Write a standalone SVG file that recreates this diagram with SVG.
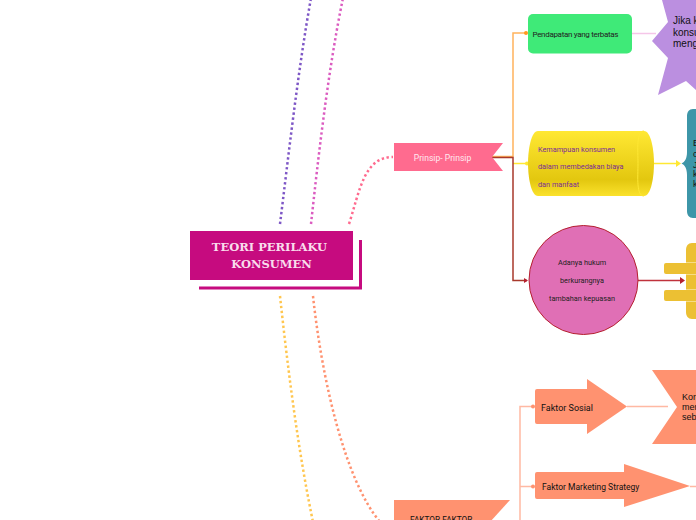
<svg xmlns="http://www.w3.org/2000/svg" width="696" height="520" viewBox="0 0 696 520">
<style>
.sans{font-family:"Roboto","Liberation Sans",sans-serif}
.arial{font-family:"Liberation Sans",Arial,sans-serif}
.mid{text-anchor:middle}
.dot{fill:none;stroke-width:2.5;stroke-dasharray:2.4 2.6}
.ln{fill:none;stroke-width:1.5}
.title{font-family:"DejaVu Serif",serif;font-weight:bold;font-size:11.5px;fill:#f9dcec;text-anchor:middle}
</style>
<defs>
<linearGradient id="cyl" x1="0" y1="0" x2="0" y2="1">
<stop offset="0" stop-color="#ffe833"/><stop offset="0.75" stop-color="#e3c70f"/><stop offset="1" stop-color="#fbe22c"/>
</linearGradient>
</defs>
<g id="connectors">
<path class="dot" stroke="#7e57c6" d="M280 224C288 160 298 70 311 -2"/>
<path class="dot" stroke="#db5cc0" d="M311 224C318 160 328 70 343 -2"/>
<path class="dot" stroke="#ff6b8f" d="M349 224C360 190 364 157 393 157"/>
<path class="dot" stroke="#ffc64f" d="M280 296C288 370 298 450 313 522"/>
<path class="dot" stroke="#ff9270" d="M313 296C322 380 345 480 380 522"/>
<path class="ln" stroke="#ffb35c" d="M492 156.500H513V33H526"/>
<circle cx="526" cy="33" r="2" fill="#ff9a1f"/>
<path class="ln" stroke="#ffe833" d="M513 163.500H528"/>
<circle cx="527" cy="163.500" r="2" fill="#ffe833"/>
<path class="ln" stroke="#a8392b" d="M492 157.500H513V280.500H527"/>
<path fill="#b5202f" d="M524 278l4 2.500-4 2.500z"/>
<path class="ln" stroke="#f5c6e8" d="M632 33.500H656"/>
<path class="ln" stroke="#ffe833" d="M654 163.500H678"/>
<path fill="#ffe833" d="M676 160l5 3.500-5 3.500z"/>
<path class="ln" stroke="#c0323c" d="M638 280.500H682"/>
<path fill="#b5202f" d="M680 277l5 3.500-5 3.500z"/>
<path class="ln" stroke="#ffb9a3" d="M520 520V406.500H533M520 486.500H533M627 406.500H668M690 486.500H696"/>
<circle cx="533" cy="406.500" r="2" fill="#ff9270"/>
<circle cx="533" cy="486.500" r="2" fill="#ff9270"/>
</g>
<g id="node-center">
<path fill="none" stroke="#c60b7f" stroke-width="3" d="M360.500 240V288H199"/>
<rect x="190" y="231" width="163" height="49" fill="#c60b7f"/>
<text x="269.500" y="251" class="title">TEORI PERILAKU</text>
<text x="271.500" y="268" class="title">KONSUMEN</text>
</g>
<g id="node-prinsip">
<path fill="#ff6b8f" d="M394 143H503L492 157L503 171H394z"/>
<text x="442.500" y="161" class="sans mid" font-size="8.600" fill="#ffe9ef">Prinsip- Prinsip</text>
</g>
<g id="node-pendapatan">
<rect x="528" y="14" width="104" height="39.500" rx="5" fill="#3fea78"/>
<text x="532.500" y="37" class="sans" font-size="8" textLength="86" fill="#222">Pendapatan yang terbatas</text>
</g>
<g id="node-star">
<path fill="#bb8fe0" d="M662 0L668 22L652 41L668 58L658 95L686 81L696 90V0z"/>
<text class="arial" font-size="10" fill="#111"><tspan x="673" y="24">Jika k</tspan><tspan x="673" y="36">konsu</tspan><tspan x="673" y="47">mengu</tspan></text>
</g>
<g id="node-kemampuan">
<path fill="url(#cyl)" d="M538 131H644C651 131 654 150 654 163.500C654 177 651 196 644 196H538C531 196 528 177 528 163.500C528 150 531 131 538 131z"/>
<path fill="none" stroke="#ffe833" d="M644 131C636 131 638 150 638 163.500C638 177 636 196 644 196"/>
<g class="sans" font-size="7.300" fill="#7b2d96">
<text x="538" y="152">Kemampuan konsumen</text>
<text x="538" y="169">dalam membedakan biaya</text>
<text x="538" y="187">dan manfaat</text>
</g>
</g>
<g id="node-teal">
<path fill="#3d96a8" d="M696 109H693C689 109 687 112 687 116V152C687 158 685 162 681.500 163.500C685 165 687 169 687 175V211C687 215 689 218 693 218H696z"/>
<g class="arial" font-size="9" fill="#111">
<text x="693" y="146">E</text><text x="693" y="157">c</text><text x="693" y="168">J</text><text x="693" y="177">k</text><text x="693" y="187">k</text>
</g>
</g>
<g id="node-hukum">
<circle cx="583.500" cy="280" r="54.500" fill="#e06fb5" stroke="#b5202f"/>
<g class="sans mid" font-size="7.300" fill="#222">
<text x="582" y="265">Adanya hukum</text>
<text x="582" y="283">berkurangnya</text>
<text x="582" y="301">tambahan kepuasan</text>
</g>
</g>
<g id="node-plus" fill="#ecc033">
<path d="M696 243H692C688 243 686 246 686 250V312C686 316 688 319 692 319H696z"/>
<rect x="664" y="263" width="40" height="11" rx="2"/>
<rect x="664" y="290" width="40" height="11" rx="2"/>
<path fill="none" stroke="#f6dc85" d="M686 262.500H696M686 274.500H696M686 289.500H696M686 301.500H696"/>
</g>
<g id="node-sosial">
<path fill="#ff9270" d="M537 389H587V379L627 406.500L587 434V424H537Q535 424 535 422V391Q535 389 537 389z"/>
<text x="541" y="411" class="sans" font-size="9" fill="#111">Faktor Sosial</text>
</g>
<g id="node-notch">
<path fill="#ff9270" d="M652 370H696V444H652L677 407z"/>
<g class="arial" font-size="9" fill="#111">
<text x="682" y="400">Kon</text><text x="682" y="410">men</text><text x="682" y="420">seba</text>
</g>
</g>
<g id="node-marketing">
<path fill="#ff9270" d="M537 472H624V464L690 486L624 507V499H537Q535 499 535 497V474Q535 472 537 472z"/>
<text x="542" y="490" class="sans" font-size="8.500" fill="#111">Faktor Marketing Strategy</text>
</g>
<g id="node-faktor">
<path fill="#ff9270" d="M394 500H510L490 522H394z"/>
<text x="410" y="523" class="sans" font-size="8.300" fill="#111">FAKTOR FAKTOR</text>
</g>
</svg>
